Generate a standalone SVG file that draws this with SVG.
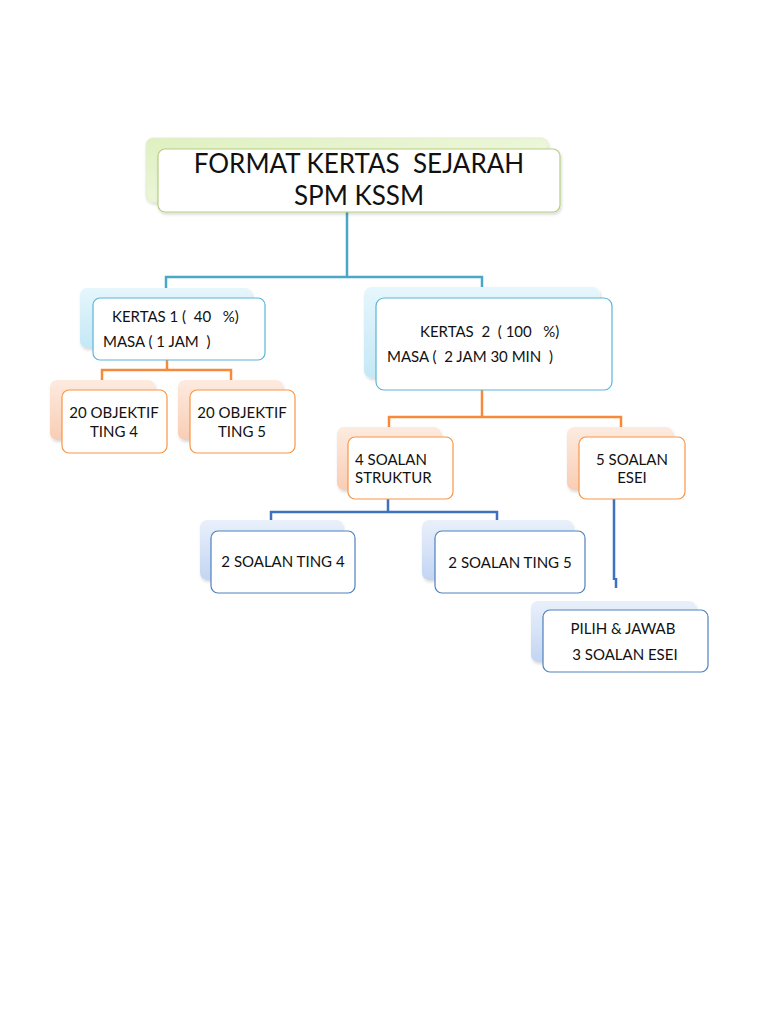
<svg xmlns="http://www.w3.org/2000/svg" width="768" height="1024" viewBox="0 0 768 1024" xml:space="preserve">
<defs>
<linearGradient id="gG" x1="0" y1="0" x2="1" y2="1"><stop offset="0" stop-color="#dff0c0"/><stop offset="1" stop-color="#f7fbee"/></linearGradient>
<linearGradient id="gC" x1="0" y1="0" x2="0" y2="1"><stop offset="0" stop-color="#e6f6fc"/><stop offset="1" stop-color="#c4e8f6"/></linearGradient>
<linearGradient id="gO" x1="0" y1="0" x2="0" y2="1"><stop offset="0" stop-color="#fdebe0"/><stop offset="1" stop-color="#f9cdb4"/></linearGradient>
<linearGradient id="gB" x1="0" y1="0" x2="0" y2="1"><stop offset="0" stop-color="#e9f0fb"/><stop offset="1" stop-color="#c3d5f3"/></linearGradient>
<filter id="sh" x="-10%" y="-10%" width="130%" height="140%"><feDropShadow dx="1" dy="2" stdDeviation="1.5" flood-color="#000" flood-opacity="0.15"/></filter>
</defs>
<style>
.back{filter:url(#sh)}
.front{fill:#ffffff;stroke-width:1.2}
.g{stroke:#b5cf82}
.c{stroke:#5ab6d3}
.o{stroke:#f79646}
.b{stroke:#4f81bd}
text{font-family:Lato,"Open Sans","Liberation Sans",sans-serif;fill:#111;font-size:15px;white-space:pre}
.t{font-size:26px}
.mid{text-anchor:middle}
.conn{fill:none;stroke-width:2.5}
</style>
<rect width="768" height="1024" fill="#ffffff"/>
<g id="connectors">
<path class="conn" stroke="#4aa8c4" d="M347,212 V277 M166,290 V277 H482 V290"/>
<path class="conn" stroke="#f68a3a" d="M167,360 V370 M102,380 V370 H231 V380"/>
<path class="conn" stroke="#f68a3a" d="M482,390 V417 M389,428 V417 H621 V428"/>
<path class="conn" stroke="#3f72bc" d="M388,499 V512 M271,520 V512 H497 V520"/>
<path class="conn" stroke="#3f72bc" d="M614,499 V580 M616,578 V588"/>
</g>
<g id="title">
<rect class="back" x="146" y="138" width="402" height="64" rx="7" fill="url(#gG)" stroke="#e3eed0"/>
<rect class="front g" x="158" y="149" width="402" height="63" rx="7" filter="url(#sh)"/>
<text class="t mid" x="359" y="173">FORMAT KERTAS  SEJARAH</text>
<text class="t mid" x="359" y="205">SPM KSSM</text>
</g>
<g id="kertas1">
<rect class="back" x="80" y="288" width="172" height="60" rx="7" fill="url(#gC)"/>
<rect class="front c" x="93" y="298" width="172" height="62" rx="7"/>
<text x="112" y="322">KERTAS 1 (  40   %)</text>
<text x="103" y="347">MASA ( 1 JAM  )</text>
</g>
<g id="kertas2">
<rect class="back" x="364" y="287" width="236" height="91" rx="8" fill="url(#gC)"/>
<rect class="front c" x="376" y="298" width="236" height="92" rx="8"/>
<text x="420" y="337">KERTAS  2  ( 100   %)</text>
<text x="387" y="362">MASA (  2 JAM 30 MIN  )</text>
</g>
<g id="obj4">
<rect class="back" x="50" y="380" width="105" height="60" rx="7" fill="url(#gO)"/>
<rect class="front o" x="62" y="390" width="105" height="63" rx="7"/>
<text class="mid" x="114" y="418">20 OBJEKTIF</text>
<text class="mid" x="114" y="437">TING 4</text>
</g>
<g id="obj5">
<rect class="back" x="178" y="380" width="105" height="60" rx="7" fill="url(#gO)"/>
<rect class="front o" x="190" y="390" width="105" height="63" rx="7"/>
<text class="mid" x="242" y="418">20 OBJEKTIF</text>
<text class="mid" x="242" y="437">TING 5</text>
</g>
<g id="struktur">
<rect class="back" x="337" y="427" width="104" height="63" rx="7" fill="url(#gO)"/>
<rect class="front o" x="348" y="437" width="105" height="62" rx="7"/>
<text x="355" y="465">4 SOALAN</text>
<text x="355" y="483">STRUKTUR</text>
</g>
<g id="esei">
<rect class="back" x="567" y="427" width="106" height="63" rx="7" fill="url(#gO)"/>
<rect class="front o" x="579" y="437" width="106" height="62" rx="7"/>
<text class="mid" x="632" y="465">5 SOALAN</text>
<text class="mid" x="632" y="483">ESEI</text>
</g>
<g id="ting4">
<rect class="back" x="200" y="520" width="143" height="60" rx="7" fill="url(#gB)"/>
<rect class="front b" x="211" y="531" width="144" height="62" rx="7"/>
<text class="mid" x="283" y="567">2 SOALAN TING 4</text>
</g>
<g id="ting5">
<rect class="back" x="422" y="520" width="151" height="60" rx="7" fill="url(#gB)"/>
<rect class="front b" x="435" y="531" width="150" height="62" rx="7"/>
<text class="mid" x="510" y="568">2 SOALAN TING 5</text>
</g>
<g id="pilih">
<rect class="back" x="531" y="601" width="165" height="61" rx="7" fill="url(#gB)"/>
<rect class="front b" x="543" y="610" width="165" height="62" rx="7"/>
<text class="mid" x="623" y="634">PILIH &amp; JAWAB</text>
<text class="mid" x="623" y="660"> 3 SOALAN ESEI</text>
</g>
</svg>
